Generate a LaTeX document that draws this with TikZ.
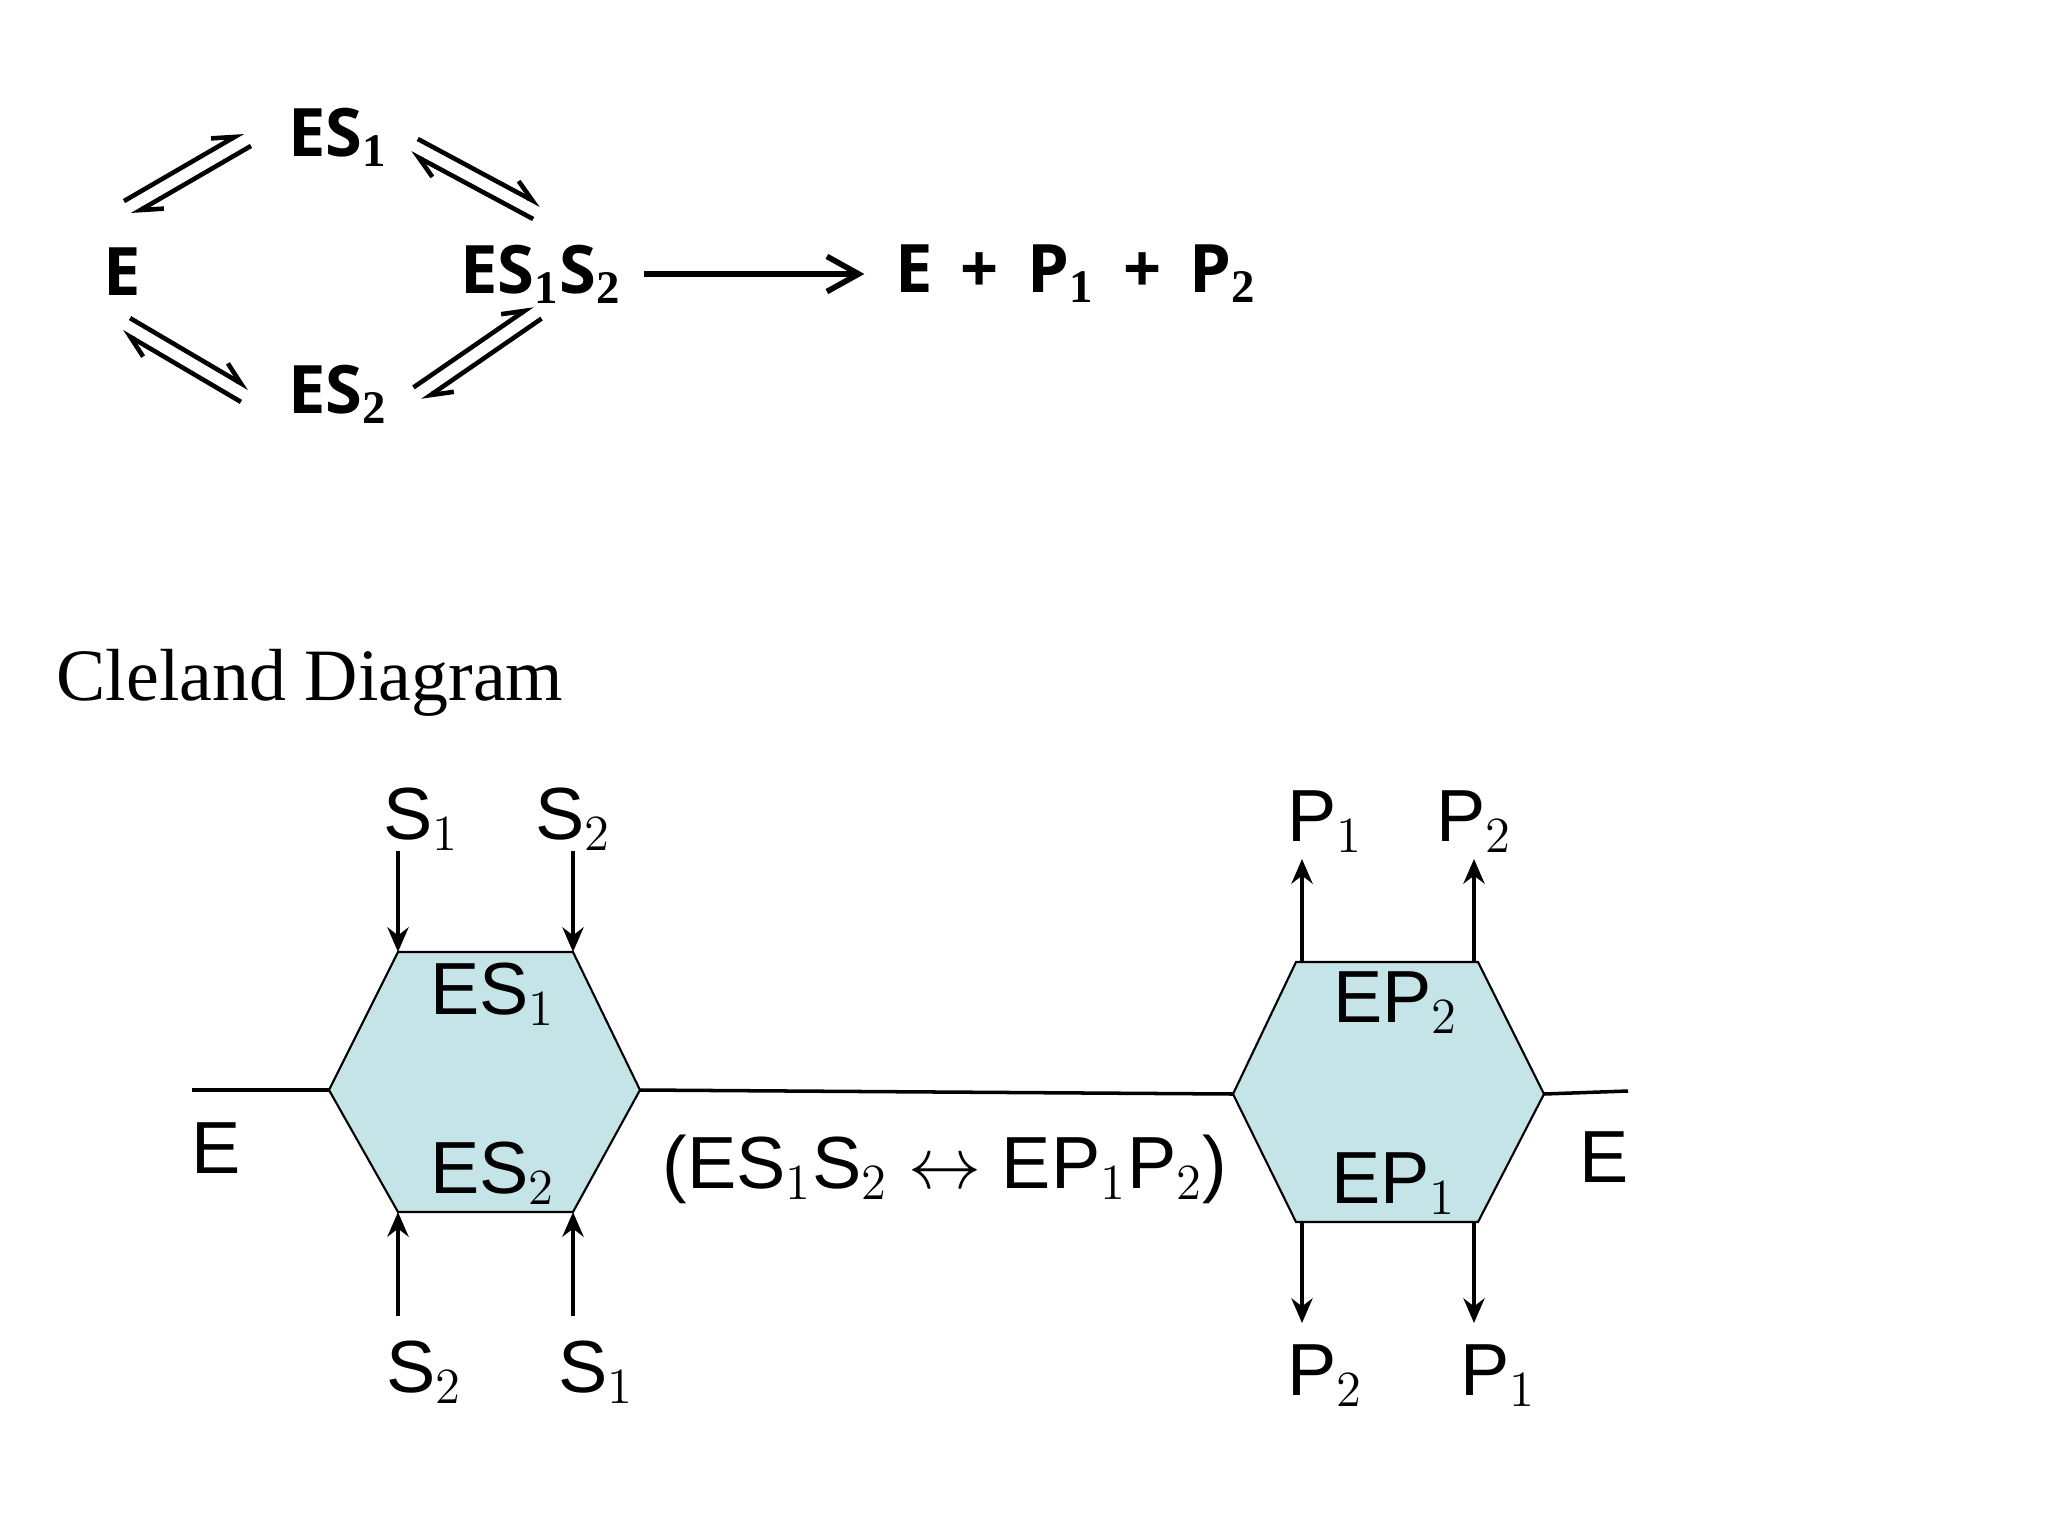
\documentclass[tikz,border=0pt]{standalone}
\usepackage{fontspec}
\setmainfont{Liberation Serif}
\newfontfamily\topf{Open Sans}
\newfontfamily\labf{Liberation Sans}
\usetikzlibrary{arrows.meta,calc}
\begin{document}
\begin{tikzpicture}[x=0.01cm,y=-0.01cm,
  tl/.style={font=\topf\bfseries\fontsize{19}{22}\selectfont, inner sep=0pt},
  lb/.style={font=\labf\fontsize{21}{24}\selectfont, inner sep=0pt},
  harp/.style={line width=1.3pt,-{Straight Barb[left,length=6pt,width=6pt]}},
  hexa/.style={draw=black, line width=0.6pt, fill={rgb,255:red,197;green,228;blue,232}},
  conn/.style={line width=1pt},
  ar/.style={line width=1.2pt,-{Stealth[length=7pt,width=6pt]}}]
\useasboundingbox (0,0) rectangle (2048,1536);
% top scheme
\node[tl] (E) at (122,272) {E};
\node[tl] (ES1) at (338,137) {ES$_{\mathbf 1}$};
\node[tl] (ES2) at (338,394) {ES$_{\mathbf 2}$};
\node[tl] (C) at (541,274) {ES$_{\mathbf 1}$S$_{\mathbf 2}$};
\node[tl] (Pr) at (1076,274) {E \,+\, P$_{\mathbf 1}$ \,+\, P$_{\mathbf 2}$};
\coordinate (a1) at (128,208); \coordinate (a2) at (247,139);
\coordinate (b1) at (414,146); \coordinate (b2) at (537,212);
\coordinate (c1) at (126,325); \coordinate (c2) at (245,395);
\coordinate (d1) at (418,394); \coordinate (d2) at (537,312);
\foreach \s/\t in {a1/a2,b1/b2,c1/c2,d1/d2}{
  \draw[harp] ($(\s)!0.08cm!90:(\t)$) -- ($(\t)!0.08cm!-90:(\s)$);
  \draw[harp] ($(\t)!0.08cm!90:(\s)$) -- ($(\s)!0.08cm!-90:(\t)$);
}
\draw[line width=1.6pt,-{Straight Barb[length=9pt,width=10pt]}] ($(C.east)+(22,0)$) coordinate (ar1) -- ($(Pr.west)+(-30,0)$) coordinate (ar2);
% title
\node[anchor=west, font=\fontsize{21}{25}\selectfont, inner sep=0pt] (T) at (56,683) {Cleland Diagram};
% hexagons
\draw[hexa] (329,1090) coordinate (h1w) -- (398,952) -- (573,952) -- (640,1090) coordinate (h1e) -- (573,1212) -- (398,1212) -- cycle;
\draw[hexa] (1233,1094) coordinate (h2w) -- (1296,962) -- (1478,962) -- (1544,1094) coordinate (h2e) -- (1478,1222) -- (1296,1222) -- cycle;
\coordinate (eL) at (192,1090); \coordinate (eR) at (1628,1091);
\draw[conn] (eL) -- (h1w);
\draw[conn] (h1e) -- (h2w);
\draw[conn] (h2e) -- (eR);
% labels
\node[lb] (El) at (216,1148) {E};
\node[lb] (Er) at (1604,1157) {E};
\node[lb] (es1) at (493,994) {ES$_1$};
\node[lb] (es2) at (493,1173) {ES$_2$};
\node[lb] (ep2) at (1396,1003) {EP$_2$};
\node[lb] (ep1) at (1394,1184) {EP$_1$};
\node[lb] (mid) at (945,1169) {(ES$_1$S$_2$ $\leftrightarrow$ EP$_1$P$_2$)};
\node[lb] (s1t) at (421,819) {S$_1$};
\node[lb] (s2t) at (573,819) {S$_2$};
\node[lb] (s2b) at (424,1372) {S$_2$};
\node[lb] (s1b) at (596,1372) {S$_1$};
\node[lb] (p1t) at (1325,822) {P$_1$};
\node[lb] (p2t) at (1474,822) {P$_2$};
\node[lb] (p2b) at (1325,1376) {P$_2$};
\node[lb] (p1b) at (1498,1376) {P$_1$};
% arrows
\draw[ar] (398,851) -- (398,952);
\draw[ar] (573,851) -- (573,952);
\draw[ar] (398,1316) -- (398,1212);
\draw[ar] (573,1316) -- (573,1212);
\draw[ar] (1302,962) -- (1302,859);
\draw[ar] (1474,962) -- (1474,859);
\draw[ar] (1302,1222) -- (1302,1323);
\draw[ar] (1474,1222) -- (1474,1323);
\end{tikzpicture}
\end{document}
